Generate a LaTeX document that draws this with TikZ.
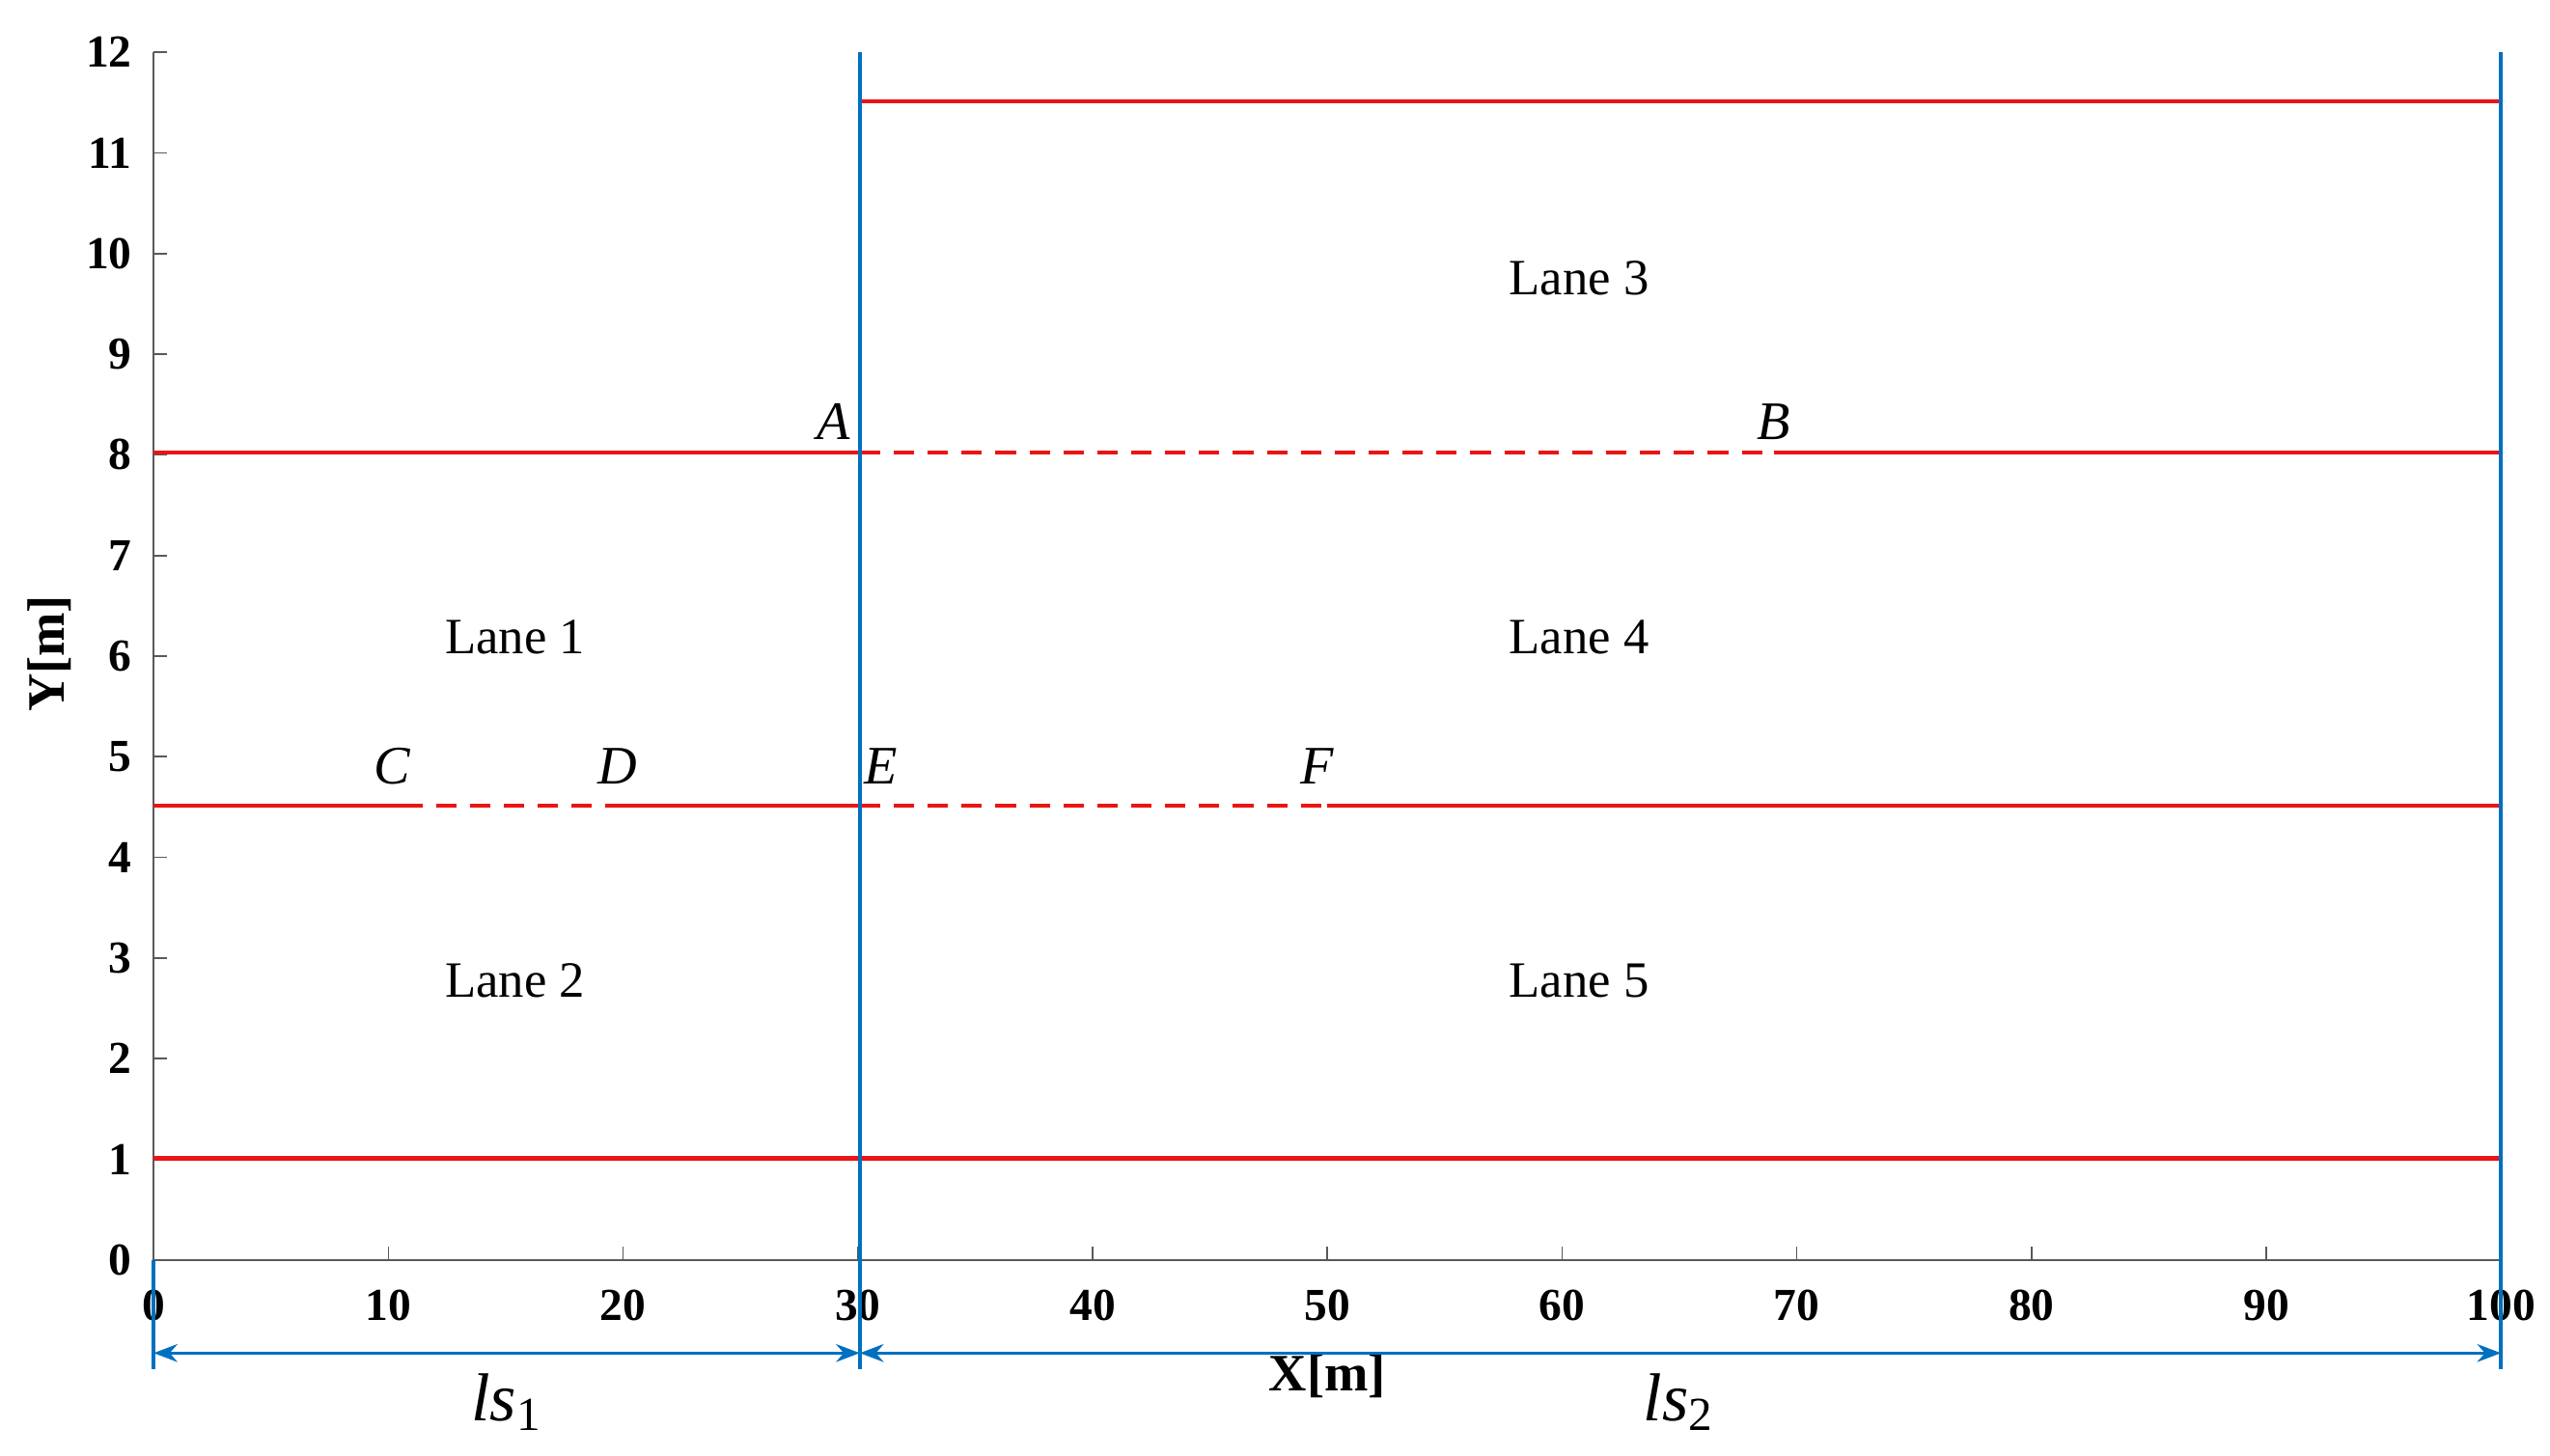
\documentclass[tikz,border=0pt]{standalone}
\usepackage{fontspec}
\setmainfont{Liberation Serif}
\usetikzlibrary{arrows.meta}
\begin{document}
\begin{tikzpicture}[x=0.016936cm,y=-0.016936cm,
  red/.style={draw={rgb,255:red,235;green,20;blue,20},line width=1.3pt},
  reddash/.style={red,dash pattern=on 6pt off 4pt},
  blu/.style={draw={rgb,255:red,0;green,112;blue,192},line width=1pt},
  ax/.style={draw=gray!70!black,line width=0.5pt},
  tl/.style={font=\bfseries\fontsize{13.5}{15}\selectfont},
  lane/.style={font=\fontsize{15}{17}\selectfont},
  pt/.style={font=\itshape\fontsize{16}{18}\selectfont}]
\useasboundingbox (0,0) rectangle (1560,891);
% axes
\draw[ax] (94,32) -- (94,771) -- (1530,771);
\foreach \v in {0,...,12} {
  \draw[ax] (94,{771-61.58*\v}) -- ++(8,0);
  \node[tl,anchor=east] at (88,{771-61.58*\v}) {\v};}
\foreach \v in {0,10,...,100} {
  \draw[ax] ({94+14.36*\v},771) -- ++(0,-8);
  \node[tl] at ({94+14.36*\v},799) {\v};}
\node[tl,font=\bfseries\fontsize{15.5}{17}\selectfont,rotate=90] at (30,400) {Y[m]};
\node[tl,font=\bfseries\fontsize{15.5}{17}\selectfont] at (812,842) {X[m]};
% red lines
\coordinate (p11a) at (526,62); \coordinate (p11b) at (1530,62);
\draw[red] (526,277) -- (p11a) -- (p11b);
\draw[red] (94,277) -- (526,277);
\draw[reddash] (526,277) -- (1085,277);
\draw[red] (1085,277) -- (1530,277);
\draw[red] (94,493) -- (246,493);
\draw[reddash] (246,493) -- (381,493);
\draw[red] (381,493) -- (526,493);
\draw[reddash] (526,493) -- (812,493);
\draw[red] (812,493) -- (1530,493);
\draw[red] (94,709) -- (1530,709);
% blue
\coordinate (b1t) at (526,32); \coordinate (b1b) at (526,838);
\coordinate (b2t) at (1530,32); \coordinate (b2b) at (1530,838);
\coordinate (b0t) at (94,771); \coordinate (b0b) at (94,838);
\draw[blu] (b1t) -- (b1b);
\draw[blu] (b2t) -- (b2b);
\draw[blu] (b0t) -- (b0b);
\draw[blu,{Stealth[length=7pt]}-{Stealth[length=7pt]}] (94,828) -- (526,828);
\draw[blu,{Stealth[length=7pt]}-{Stealth[length=7pt]}] (526,828) -- (1530,828);
\node[font=\itshape\fontsize{20}{22}\selectfont] (ls1) at (310,858) {ls\textsubscript{\upshape 1}};
\node[font=\itshape\fontsize{20}{22}\selectfont] (ls2) at (1027,858) {ls\textsubscript{\upshape 2}};
% labels
\node[lane] (l1) at (315,390) {Lane 1};
\node[lane] (l2) at (315,600) {Lane 2};
\node[lane] (l3) at (966,170) {Lane 3};
\node[lane] (l4) at (966,390) {Lane 4};
\node[lane] (l5) at (966,600) {Lane 5};
\node[pt] (A) at (510,258) {A};
\node[pt] (B) at (1085,258) {B};
\node[pt] (C) at (240,469) {C};
\node[pt] (D) at (378,469) {D};
\node[pt] (E) at (539,469) {E};
\node[pt] (F) at (806,469) {F};
\end{tikzpicture}
\end{document}
